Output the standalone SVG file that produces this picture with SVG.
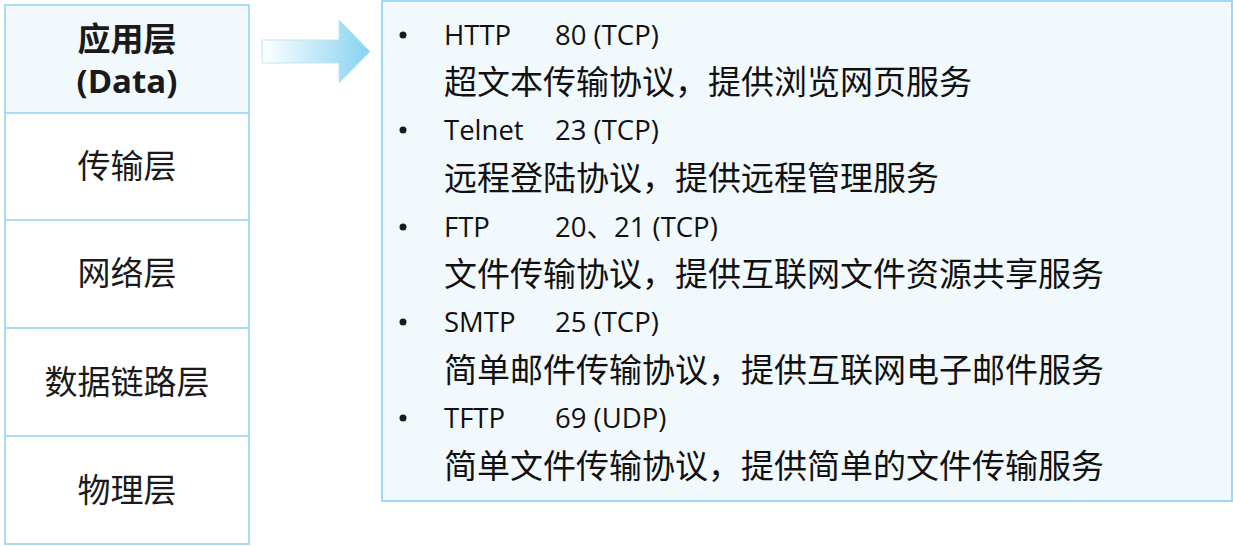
<svg xmlns="http://www.w3.org/2000/svg" width="1233" height="546" viewBox="0 0 1233 546">
<style>
.cell{stroke:#a9def2;stroke-width:2}
.lbl{font-family:"Open Sans","Noto Sans CJK SC",sans-serif;font-size:33px;fill:#1a1a1a;text-anchor:middle}
.en{font-family:"Open Sans","Noto Sans CJK SC",sans-serif;font-size:27.5px;fill:#111111}
.zh{font-family:"Noto Sans CJK SC",sans-serif;font-size:33px;fill:#111111}
.dot{fill:#1a1a1a}
</style>
<defs>
<linearGradient id="ag" x1="0" y1="0" x2="1" y2="0">
<stop offset="0" stop-color="#ffffff"/>
<stop offset="1" stop-color="#86d2f0"/>
</linearGradient>
</defs>
<rect width="1233" height="546" fill="#ffffff"/>
<g id="layer-app"><rect class="cell" x="5" y="5" width="244" height="108" fill="#f2f9fd"/>
<text class="lbl" x="127" y="51" font-weight="bold" font-size="37">应用层</text>
<text class="lbl" x="127" y="93" font-weight="bold" font-size="28">(Data)</text></g>
<g id="layer-transport"><rect class="cell" x="5" y="113" width="244" height="107" fill="#ffffff"/>
<text class="lbl" x="127" y="178">传输层</text></g>
<g id="layer-network"><rect class="cell" x="5" y="220" width="244" height="108" fill="#ffffff"/>
<text class="lbl" x="127" y="285">网络层</text></g>
<g id="layer-datalink"><rect class="cell" x="5" y="328" width="244" height="108" fill="#ffffff"/>
<text class="lbl" x="127" y="394">数据链路层</text></g>
<g id="layer-physical"><rect class="cell" x="5" y="436" width="244" height="108" fill="#ffffff"/>
<text class="lbl" x="127" y="502">物理层</text></g>
<g id="connectors">
<path d="M262,40 L339,40 L339,20 L370,51.5 L339,83 L339,63 L262,63 Z" fill="url(#ag)" stroke="#bfe6f6" stroke-width="1"/>
</g>
<g id="protocols">
<rect x="382" y="1" width="850" height="500" fill="#f2f9fd" stroke="#9ed9f1" stroke-width="2"/>
<circle class="dot" cx="403" cy="35" r="3.5"/>
<text class="en" x="444" y="45">HTTP<tspan x="555">80 (TCP)</tspan></text>
<text class="zh" x="444" y="94">超文本传输协议，提供浏览网页服务</text>
<circle class="dot" cx="403" cy="130" r="3.5"/>
<text class="en" x="444" y="140">Telnet<tspan x="555">23 (TCP)</tspan></text>
<text class="zh" x="444" y="190">远程登陆协议，提供远程管理服务</text>
<circle class="dot" cx="403" cy="227" r="3.5"/>
<text class="en" x="444" y="237">FTP<tspan x="555">20、21 (TCP)</tspan></text>
<text class="zh" x="444" y="286">文件传输协议，提供互联网文件资源共享服务</text>
<circle class="dot" cx="403" cy="322" r="3.5"/>
<text class="en" x="444" y="332">SMTP<tspan x="555">25 (TCP)</tspan></text>
<text class="zh" x="444" y="382">简单邮件传输协议，提供互联网电子邮件服务</text>
<circle class="dot" cx="403" cy="418" r="3.5"/>
<text class="en" x="444" y="428">TFTP<tspan x="555">69 (UDP)</tspan></text>
<text class="zh" x="444" y="478">简单文件传输协议，提供简单的文件传输服务</text>
</g>
</svg>
